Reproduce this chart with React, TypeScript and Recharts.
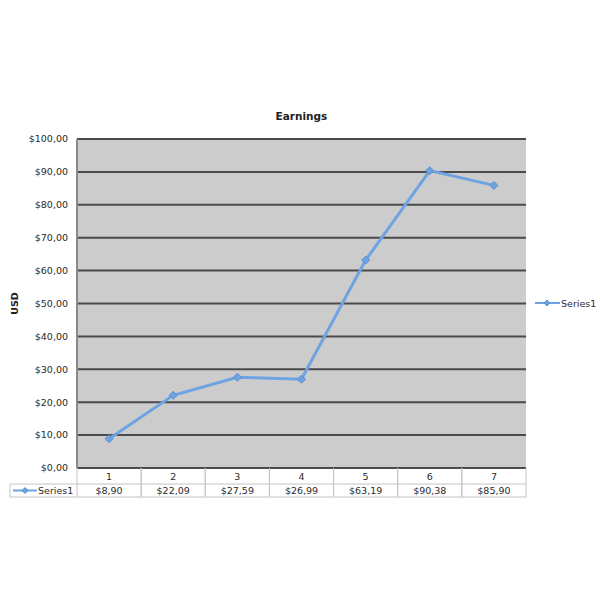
import { ComposedChart, Line, XAxis, YAxis, CartesianGrid } from "recharts";

const categories = ["1", "2", "3", "4", "5", "6", "7"];
const earnings = [8.9, 22.09, 27.59, 26.99, 63.19, 90.38, 85.9];
const valueLabels = ["$8,90", "$22,09", "$27,59", "$26,99", "$63,19", "$90,38", "$85,90"];
const yTicks = [0, 10, 20, 30, 40, 50, 60, 70, 80, 90, 100];

const data = categories.map((c, i) => ({ cat: c, value: earnings[i], label: valueLabels[i] }));

const FONT = "'DejaVu Sans', Verdana, sans-serif";
const BLUE = "#6ea3e2";
const PLOT_LEFT = 77;
const PLOT_RIGHT = 526;
const BAND = (PLOT_RIGHT - PLOT_LEFT) / categories.length;
const TABLE_LEFT = 10;
const CELL = "#c4c4c4";
const TXT = "#2a2a2a";

const Diamond = ({ cx, cy, r = 4 }: { cx: number; cy: number; r?: number }) => (
  <path
    d={`M${cx},${cy - r}L${cx + r},${cy}L${cx},${cy + r}L${cx - r},${cy}Z`}
    fill={BLUE}
    stroke="#5a8fcf"
    strokeWidth={1}
  />
);

// data table under the plot, drawn as the x axis ticks
const TableTick = (props: any) => {
  const { x, y, payload, index } = props;
  const left = x - BAND / 2;
  const right = x + BAND / 2;
  const r1 = y + 16;
  const r2 = y + 29;
  return (
    <g>
      <line x1={left} y1={y} x2={left} y2={r2} stroke={CELL} />
      <line x1={right} y1={y} x2={right} y2={r2} stroke={CELL} />
      <line x1={left} y1={r1} x2={right} y2={r1} stroke={CELL} />
      <line x1={left} y1={r2} x2={right} y2={r2} stroke={CELL} />
      <text x={x} y={y + 12} textAnchor="middle" fontSize={9.5} fill={TXT} fontFamily={FONT}>
        {payload.value}
      </text>
      <text x={x} y={y + 26} textAnchor="middle" fontSize={9.5} fill={TXT} fontFamily={FONT}>
        {data[index]?.label}
      </text>
      {index === 0 && (
        <g>
          <line x1={TABLE_LEFT} y1={r1} x2={left} y2={r1} stroke={CELL} />
          <line x1={TABLE_LEFT} y1={r2} x2={left} y2={r2} stroke={CELL} />
          <line x1={TABLE_LEFT} y1={r1} x2={TABLE_LEFT} y2={r2} stroke={CELL} />
          <line x1={TABLE_LEFT + 3} y1={y + 22.5} x2={TABLE_LEFT + 27} y2={y + 22.5} stroke={BLUE} strokeWidth={2} />
          <Diamond cx={TABLE_LEFT + 15} cy={y + 22.5} r={3} />
          <text x={TABLE_LEFT + 28} y={y + 26} fontSize={9.5} fill={TXT} fontFamily={FONT}>
            Series1
          </text>
        </g>
      )}
    </g>
  );
};

export default function App() {
  return (
    <div style={{ position: "absolute", left: 0, top: 0, width: 600, height: 600, background: "#fff", fontFamily: FONT }}>
      <div
        style={{
          position: "absolute",
          left: PLOT_LEFT,
          width: PLOT_RIGHT - PLOT_LEFT,
          top: 110,
          textAlign: "center",
          fontSize: 10.5,
          fontWeight: "bold",
          color: "#222",
        }}
      >
        Earnings
      </div>
      <svg width={66} height={14} style={{ position: "absolute", left: 534, top: 296 }}>
        <line x1={1} y1={7} x2={26} y2={7} stroke={BLUE} strokeWidth={2} />
        <Diamond cx={13} cy={7} r={3} />
        <text x={27} y={10.5} fontSize={9.5} fill={TXT} fontFamily={FONT}>
          Series1
        </text>
      </svg>
      <ComposedChart width={600} height={600} data={data} margin={{ top: 139, right: 74, left: 0, bottom: 103 }}>
        <CartesianGrid vertical={false} fill="#cccccc" stroke="#4a4a4a" strokeWidth={2} />
        <XAxis
          dataKey="cat"
          scale="band"
          height={29}
          axisLine={{ stroke: "#4a4a4a", strokeWidth: 2 }}
          tickLine={false}
          tickSize={0}
          tickMargin={0}
          interval={0}
          tick={<TableTick />}
        />
        <YAxis
          width={PLOT_LEFT}
          domain={[0, 100]}
          ticks={yTicks}
          tickFormatter={(v) => `$${v},00`}
          tick={{ fontSize: 9.5, fill: TXT, fontFamily: FONT }}
          tickLine={false}
          tickMargin={3}
          axisLine={{ stroke: "#8a8a8a", strokeWidth: 2 }}
          label={{
            content: ({ viewBox }: any) => (
              <text
                x={viewBox.x + 14}
                y={viewBox.y + viewBox.height / 2}
                transform={`rotate(-90 ${viewBox.x + 14} ${viewBox.y + viewBox.height / 2})`}
                textAnchor="middle"
                dominantBaseline="central"
                fontSize={9.5}
                fontWeight="bold"
                fill="#222"
                fontFamily={FONT}
              >
                USD
              </text>
            ),
          }}
        />
        <YAxis
          yAxisId="r"
          orientation="right"
          width={0}
          domain={[0, 100]}
          tick={false}
          tickLine={false}
          axisLine={{ stroke: "#a0a0a0", strokeWidth: 1.5 }}
        />
        <Line
          dataKey="value"
          name="Series1"
          stroke={BLUE}
          strokeWidth={3}
          isAnimationActive={false}
          dot={(p: any) => <Diamond key={p.index} cx={p.cx} cy={p.cy} r={4} />}
          activeDot={false}
        />
      </ComposedChart>
    </div>
  );
}
